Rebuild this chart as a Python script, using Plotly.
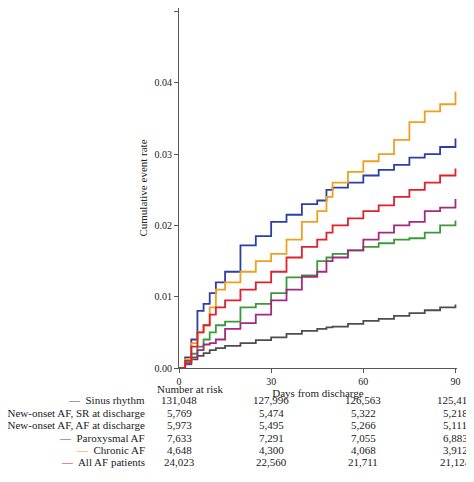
import plotly.graph_objects as go

# Curve readings (days, cumulative event rate)
days = [0, 2, 4, 6, 8, 10, 12, 15, 20, 25, 30, 35, 40, 45, 48, 50, 55, 60, 65, 70, 75, 80, 85, 90]

sinus = [0, 0.0006, 0.0012, 0.0017, 0.0021, 0.0025, 0.0028, 0.0031, 0.0035, 0.0039, 0.0043, 0.0048,
         0.0052, 0.0055, 0.0057, 0.0058, 0.0062, 0.0066, 0.0069, 0.0073, 0.0077, 0.0081, 0.0085, 0.0089]
new_sr = [0, 0.0008, 0.002, 0.003, 0.004, 0.005, 0.006, 0.0065, 0.0085, 0.009, 0.0105, 0.0127,
          0.013, 0.015, 0.0155, 0.016, 0.0165, 0.017, 0.0175, 0.018, 0.0182, 0.019, 0.020, 0.0207]
new_af = [0, 0.0015, 0.004, 0.008, 0.009, 0.0105, 0.012, 0.0135, 0.0172, 0.0185, 0.0205, 0.0215,
          0.023, 0.0235, 0.025, 0.0253, 0.026, 0.027, 0.0278, 0.0285, 0.0295, 0.030, 0.031, 0.0322]
paroxysmal = [0, 0.0005, 0.0015, 0.0025, 0.0033, 0.0035, 0.004, 0.0055, 0.0063, 0.0075, 0.0095, 0.011,
              0.0128, 0.0135, 0.015, 0.0155, 0.0165, 0.018, 0.019, 0.020, 0.0205, 0.022, 0.0225, 0.0237]
chronic = [0, 0.0012, 0.0035, 0.005, 0.006, 0.0085, 0.011, 0.012, 0.0135, 0.015, 0.016, 0.018,
           0.0205, 0.022, 0.024, 0.026, 0.0275, 0.029, 0.030, 0.032, 0.0345, 0.036, 0.037, 0.0388]
all_af = [0, 0.001, 0.003, 0.005, 0.006, 0.0075, 0.0085, 0.0095, 0.011, 0.012, 0.0135, 0.0155,
          0.017, 0.018, 0.019, 0.020, 0.021, 0.022, 0.0228, 0.024, 0.025, 0.026, 0.027, 0.028]

names = ["Sinus rhythm", "New-onset AF, SR at discharge", "New-onset AF, AF at discharge",
         "Paroxysmal AF", "Chronic AF", "All AF patients"]
colors = ["#4d4d4d", "#3a9a3a", "#2b3fa8", "#a3287f", "#f0a020", "#e0202a"]
series = [sinus, new_sr, new_af, paroxysmal, chronic, all_af]

risk_days = [0, 30, 60, 90]
at_risk = [
    ["131,048", "127,996", "126,563", "125,419"],
    ["5,769", "5,474", "5,322", "5,218"],
    ["5,973", "5,495", "5,266", "5,111"],
    ["7,633", "7,291", "7,055", "6,883"],
    ["4,648", "4,300", "4,068", "3,912"],
    ["24,023", "22,560", "21,711", "21,124"],
]

font = "Liberation Serif"
fig = go.Figure()
for name, col, ys in zip(names, colors, series):
    fig.add_trace(go.Scatter(x=days, y=ys, mode="lines", line_shape="hv",
                             line=dict(color=col, width=1.8), name=name))

# number-at-risk table
row_y = [-0.111, -0.147, -0.181, -0.216, -0.25, -0.283]
fig.add_annotation(x=-0.085, y=-0.08, xref="paper", yref="paper", text="Number at risk",
                   showarrow=False, xanchor="left", font=dict(size=11))
for i, (name, col) in enumerate(zip(names, colors)):
    fig.add_annotation(x=-0.115, y=row_y[i], xref="paper", yref="paper",
                       text=f"<span style='color:{col}'><b>—</b></span>  {name}",
                       showarrow=False, xanchor="right", font=dict(size=11))
    for d, v in zip(risk_days, at_risk[i]):
        fig.add_annotation(x=d, y=row_y[i], xref="x", yref="paper", text=v,
                           showarrow=False, xanchor="center", font=dict(size=11))

fig.update_layout(
    width=466, height=474, margin=dict(l=171, r=17, t=0, b=114),
    plot_bgcolor="white", paper_bgcolor="white", showlegend=False,
    font=dict(family=font, color="#222", size=10),
)
fig.update_xaxes(range=[0, 90.5], tickvals=[0, 30, 60, 90], showline=True, linecolor="#555",
                 ticks="outside", ticklen=4, tickcolor="#555", showgrid=False, zeroline=False,
                 title=dict(text="Days from discharge", font=dict(size=11), standoff=2))
fig.update_yaxes(range=[0, 0.0505], tickvals=[0, 0.01, 0.02, 0.03, 0.04, 0.05], tickformat=".2f",
                 showline=True, linecolor="#555", ticks="outside", ticklen=4, tickcolor="#555",
                 showgrid=False, zeroline=False,
                 title=dict(text="Cumulative event rate", font=dict(size=11), standoff=4))

fig.write_html("out.html")
